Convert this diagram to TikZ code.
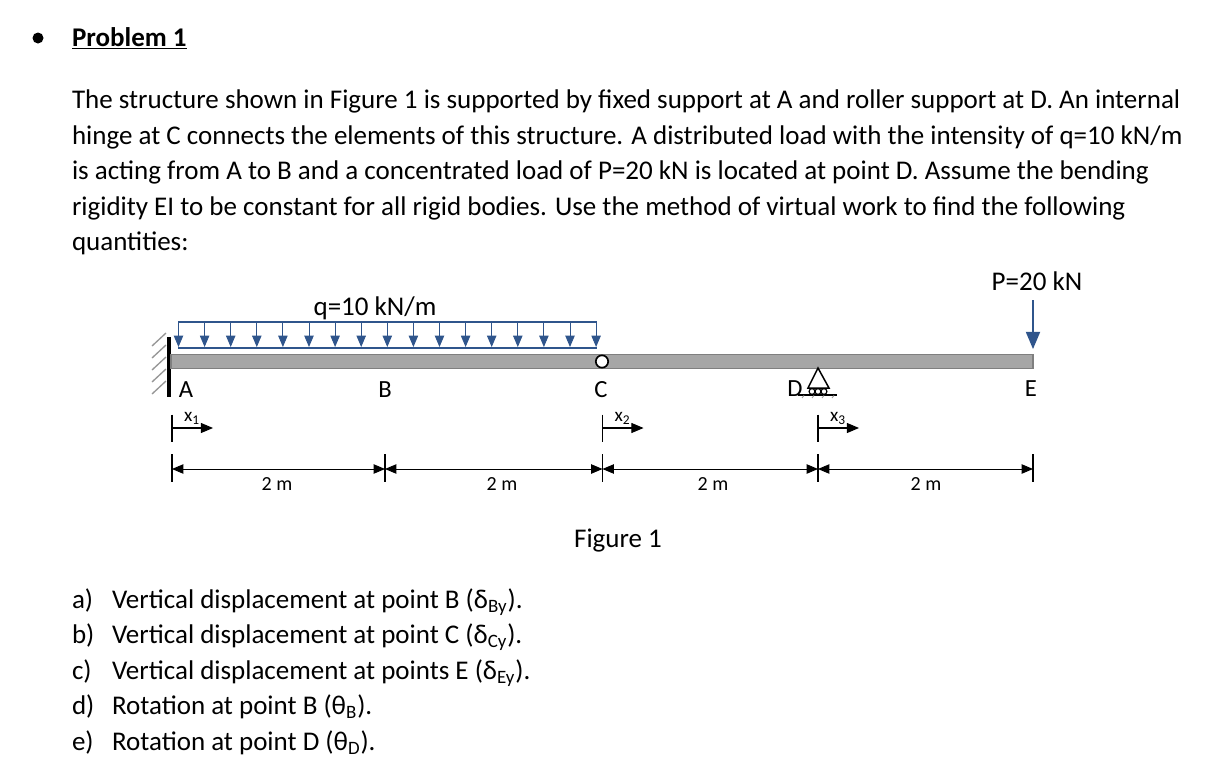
\documentclass[tikz,border=0pt]{standalone}
\usepackage[svgnames]{xcolor}
\usepackage{fontspec}
\setmainfont{Carlito}
\usepackage{tikz}
\usetikzlibrary{shapes,arrows}
\definecolor{loadBlue}{RGB}{47,85,140}
\definecolor{beamGray}{RGB}{166,166,166}
\definecolor{beamEdge}{RGB}{127,127,127}
\definecolor{hatchGray}{RGB}{150,150,150}
\newcommand{\bodysize}{\fontsize{16.2}{19}\selectfont}
\newcommand{\labsize}{\fontsize{14.8}{17}\selectfont}
\newcommand{\dimsize}{\fontsize{12}{14}\selectfont}
\newcommand{\varsize}{\fontsize{11.5}{13}\selectfont}

\begin{document}
\begin{tikzpicture}[x=0.6pt, y=-0.6pt]%
  \tikzset{line text/.style={anchor=base west, inner sep=0pt, outer sep=0pt, font=\bodysize}}
  \tikzset{point label/.style={inner sep=0pt, font=\labsize}}
  \tikzset{span label/.style={inner sep=0pt, font=\dimsize}}
  \tikzset{var label/.style={inner sep=0pt, font=\varsize}}
  \tikzset{load arrow/.style={draw,-triangle 45,line width=0.55pt,loadBlue}}
  \tikzset{dim arrow/.style={draw,triangle 45-triangle 45,line width=0.55pt,black}}
  \tikzset{var arrow/.style={draw,-triangle 45,line width=0.65pt,black}}
  \tikzset{tick/.style={draw,line width=0.7pt,black}}
  \useasboundingbox (0,0) rectangle (1214,774);

  % text above
  \node[circle, fill=black, inner sep=0pt, minimum size=6.6pt] (bullet) at (38,38) {};
  \node[line text, font=\bodysize\bfseries] (title) at (72,46) {\underline{Problem 1}};
  \node[line text] (l1) at (72,108) {The structure shown in Figure 1 is supported by fixed support at A and roller support at D. An internal};
  \node[line text] (l2) at (72,144) {hinge at C connects the elements of this structure. A distributed load with the intensity of q=10 kN/m};
  \node[line text] (l3) at (72,179) {is acting from A to B and a concentrated load of P=20 kN is located at point D. Assume the bending};
  \node[line text] (l4) at (72,215) {rigidity EI to be constant for all rigid bodies. Use the method of virtual work to find the following};
  \node[line text] (l5) at (72,250) {quantities:};

  % wall at A
  \foreach \y in {346,358,370,382,394}
    \draw[hatchGray, line width=0.8pt] (152,\y) -- (166,\y-13);
  \coordinate (w1) at (169,337);
  \coordinate (w2) at (169,397);
  \draw[black, line width=2.6pt] (w1) -- (w2);

  % beam
  \coordinate (b1) at (171,354.5);
  \coordinate (b2) at (1033,368.5);
  \draw[fill=beamGray, draw=beamEdge, line width=1.1pt] (b1) rectangle (b2);
  \node[circle, draw=black, fill=white, line width=1pt, inner sep=0pt, minimum size=7.4pt] (C) at (602,361.5) {};

  % distributed load
  \coordinate (q1) at (178,322);
  \coordinate (q2) at (597,322);
  \coordinate (q3) at (178,348);
  \coordinate (q4) at (597,348);
  \path[draw, loadBlue, line width=0.75pt] (q1) -- (q2);
  \path[draw, loadBlue, line width=0.75pt] (q3) -- (q4);
  \foreach \i in {0,...,16} {
    \coordinate (qt\i) at (178.5+26.1*\i,322);
    \coordinate (qb\i) at (178.5+26.1*\i,347);
    \path[load arrow] (qt\i) -- (qb\i);
  }
  \node[point label, font=\bodysize] (qlab) at (375,308) {q=10 kN/m};

  % point load
  \coordinate (p1) at (1033,300);
  \coordinate (p2) at (1033,349);
  \path[load arrow, line width=1.4pt] (p1) -- (p2);
  \node[point label, font=\bodysize] (plab) at (1037,281) {P=20 kN};

  % roller at D
  \coordinate (s0) at (818,368);
  \coordinate (s1) at (808,388);
  \coordinate (s2) at (829,388);
  \draw[black, line width=0.9pt] (s0) -- (s1) -- (s2) -- cycle;
  \node[circle, draw=black, line width=0.7pt, inner sep=0pt, minimum size=3.5pt] (r1) at (812,391.5) {};
  \node[circle, draw=black, line width=0.7pt, inner sep=0pt, minimum size=3.5pt] (r2) at (818,391.5) {};
  \node[circle, draw=black, line width=0.7pt, inner sep=0pt, minimum size=3.5pt] (r3) at (824,391.5) {};
  \coordinate (g1) at (798,395);
  \coordinate (g2) at (837,395);
  \draw[black, line width=0.8pt] (g1) -- (g2);
  \foreach \x in {802,812,822,832}
    \draw[hatchGray, line width=0.5pt] (\x,398) -- (\x+2,395.5);

  % points
  \node[point label] (A) at (186,390) {A};
  \node[point label] (B) at (385,390) {B};
  \node[point label] (Clab) at (601,390) {C};
  \node[point label] (D) at (795,389) {D};
  \node[point label] (E) at (1031,389) {E};

  % x1, x2, x3
  \foreach \n/\x in {1/172,2/602.5,3/818} {
    \coordinate (xa\n) at (\x,414.5);
    \coordinate (xb\n) at (\x,442);
    \coordinate (xc\n) at (\x,428);
    \coordinate (xd\n) at (\x+41,428);
    \path[tick] (xa\n) -- (xb\n);
    \path[var arrow] (xc\n) -- (xd\n);
    \node[var label] (xl\n) at (\x+20,418) {x\textsubscript{\n}};
  }

  % dimensions
  \foreach \n/\x in {0/172,1/385,2/602.5,3/818,4/1033} {
    \coordinate (da\n) at (\x,454);
    \coordinate (db\n) at (\x,482);
    \coordinate (dm\n) at (\x,469);
    \path[tick] (da\n) -- (db\n);
  }
  \path[dim arrow] (dm0) -- (dm1);
  \path[dim arrow] (dm1) -- (dm2);
  \path[dim arrow] (dm2) -- (dm3);
  \path[dim arrow] (dm3) -- (dm4);
  \node[span label] (s12) at (277,484) {2 m};
  \node[span label] (s23) at (502,484) {2 m};
  \node[span label] (s34) at (713,484) {2 m};
  \node[span label] (s45) at (926,484) {2 m};

  \node[point label, font=\bodysize] (fig) at (618,541) {Figure 1};

  % questions
  \node[line text] (qa) at (72,608) {a)};
  \node[line text] (ta) at (112,608) {Vertical displacement at point B (δ\textsubscript{By}).};
  \node[line text] (qb) at (72,643) {b)};
  \node[line text] (tb) at (112,643) {Vertical displacement at point C (δ\textsubscript{Cy}).};
  \node[line text] (qc) at (72,679) {c)};
  \node[line text] (tc) at (112,679) {Vertical displacement at points E (δ\textsubscript{Ey}).};
  \node[line text] (qd) at (72,714) {d)};
  \node[line text] (td) at (112,714) {Rotation at point B (θ\textsubscript{B}).};
  \node[line text] (qe) at (72,750) {e)};
  \node[line text] (te) at (112,750) {Rotation at point D (θ\textsubscript{D}).};
\end{tikzpicture}
\end{document}
